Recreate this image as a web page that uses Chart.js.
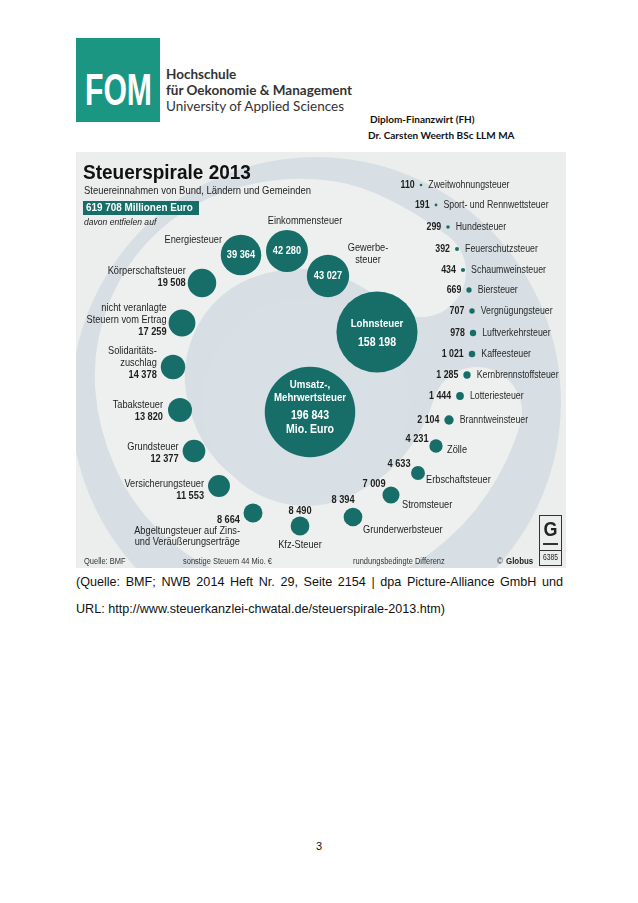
<!DOCTYPE html>
<html><head><meta charset="utf-8">
<script src="https://cdn.jsdelivr.net/npm/chart.js@4.4.1/dist/chart.umd.min.js"></script>
<style>
html,body{margin:0;padding:0;background:#fff;}
body{width:638px;height:903px;position:relative;overflow:hidden;font-family:"Liberation Sans",Arial,sans-serif;color:#111;}
.abs{position:absolute;white-space:nowrap;line-height:1;}
#logo{left:76px;top:38px;width:84px;height:84px;background:#1a9683;}
#fom{left:85px;top:64px;font:bold 45px "Liberation Sans",Arial,sans-serif;color:#fff;transform:scaleX(0.67);transform-origin:0 0;}
.hs{left:166px;font-family:Lato,"Open Sans",sans-serif;font-size:13.5px;color:#333;}
.dr{font-family:Lato,"Open Sans",sans-serif;font-weight:bold;font-size:10px;color:#111;}
.cap{left:76px;font-size:12.6px;color:#111;}
#chartBox{position:absolute;left:76px;top:152px;width:490px;height:416px;}
</style></head>
<body>
<div class="abs" id="logo"></div>
<div class="abs" id="fom">FOM</div>
<div class="abs hs" style="top:68px;font-weight:bold;">Hochschule</div>
<div class="abs hs" style="top:84px;font-weight:bold;">für Oekonomie &amp; Management</div>
<div class="abs hs" style="top:100px;">University of Applied Sciences</div>
<div class="abs dr" style="left:370px;top:114px;">Diplom-Finanzwirt (FH)</div>
<div class="abs dr" style="left:368px;top:130px;">Dr. Carsten Weerth BSc LLM MA</div>
<div id="chartBox"><canvas id="c" width="490" height="416"></canvas></div>
<div class="abs cap" style="top:576px;width:487px;text-align:justify;text-align-last:justify;">(Quelle: BMF; NWB 2014 Heft Nr. 29, Seite 2154 | dpa Picture-Alliance GmbH und</div>
<div class="abs cap" style="top:603px;">URL: http://www.steuerkanzlei-chwatal.de/steuerspirale-2013.htm)</div>
<div class="abs" style="left:316px;top:841px;font-size:11px;">3</div>
<script>
// ---- data (Mio. Euro, 2013) ----
const taxNames = ["Umsatz-,\nMehrwertsteuer", "Lohnsteuer", "Gewerbe-\nsteuer", "Einkommensteuer", "Energiesteuer",
  "Körperschaftsteuer", "nicht veranlagte\nSteuern vom Ertrag", "Solidaritäts-\nzuschlag", "Tabaksteuer", "Grundsteuer",
  "Versicherungsteuer", "Abgeltungsteuer auf Zins-\nund Veräußerungserträge", "Kfz-Steuer", "Grunderwerbsteuer", "Stromsteuer",
  "Erbschaftsteuer", "Zölle", "Branntweinsteuer", "Lotteriesteuer", "Kernbrennstoffsteuer", "Kaffeesteuer",
  "Luftverkehrsteuer", "Vergnügungsteuer", "Biersteuer", "Schaumweinsteuer", "Feuerschutzsteuer", "Hundesteuer",
  "Sport- und Rennwettsteuer", "Zweitwohnungsteuer"];
const taxValues = [196843, 158198, 43027, 42280, 39364, 19508, 17259, 14378, 13820, 12377, 11553, 8664, 8490, 8394, 7009,
  4633, 4231, 2104, 1444, 1285, 1021, 978, 707, 669, 434, 392, 299, 191, 110];
// position of each bubble on the spiral (layout grid 0..490 x 0..416)
const spiralX = [234, 301, 252, 211, 165, 126, 106, 97, 104, 118, 143, 177, 224, 277, 315, 342, 360, 373, 384, 391, 396, 397, 396, 393, 387, 381, 372, 360, 345];
const spiralY = [260, 180, 124, 99, 103, 131, 171, 215, 258, 299, 334, 361, 374, 365, 343, 321, 294, 268, 244, 223, 202, 181, 159, 138, 118, 97, 75, 53, 33];
const totalLabel = "619 708 Millionen Euro";
const otherTaxes = "sonstige Steuern 44 Mio. €";

// ---- label layout (placement relative to bubble) ----
const W = '#fff', D = '#1e1e1e';
const labelLayout = [
  {items:[{w:'name',dx:0,dy:-27,al:'center',c:W,s:11,b:1,lh:13},{w:'value',dx:0,dy:4,al:'center',c:W,s:12,b:1},{w:'Mio. Euro',dx:0,dy:18,al:'center',c:W,s:12,b:1}]},
  {items:[{w:'name',dx:0,dy:-8,al:'center',c:W,s:11,b:1},{w:'value',dx:0,dy:11,al:'center',c:W,s:12,b:1}]},
  {items:[{w:'value',dx:0,dy:0,al:'center',c:W,s:10.5,b:1},{w:'name',dx:40,dy:-28,al:'center',c:D,s:10.5,lh:12}]},
  {items:[{w:'value',dx:0,dy:0,al:'center',c:W,s:10.5,b:1},{w:'name',dx:18,dy:-30,al:'center',c:D,s:10.5}]},
  {items:[{w:'value',dx:0,dy:0,al:'center',c:W,s:10.5,b:1},{w:'name',dx:-19,dy:-15,al:'right',c:D,s:10.5}]},
  {left:true,gap:2,dy:0},
  {left:true,gap:2,dy:9},
  {left:true,gap:4,dy:8},
  {left:true,gap:5,dy:7},
  {left:true,gap:4,dy:8},
  {left:true,gap:4,dy:10},
  {items:[{w:'value',dx:-13,dy:7,al:'right',c:D,s:10.5,b:1},{w:'name',dx:-13,dy:18,al:'right',c:D,s:10.5,lh:11.5}]},
  {items:[{w:'value',dx:0,dy:-15,al:'center',c:D,s:10.5,b:1},{w:'name',dx:0,dy:19,al:'center',c:D,s:10.5}]},
  {items:[{w:'value',dx:-10,dy:-17,al:'center',c:D,s:10.5,b:1},{w:'name',dx:10,dy:13,al:'left',c:D,s:10.5}]},
  {items:[{w:'value',dx:-17,dy:-11,al:'center',c:D,s:10.5,b:1},{w:'name',dx:11,dy:10,al:'left',c:D,s:10.5}]},
  {items:[{w:'value',dx:-19,dy:-9,al:'center',c:D,s:10.5,b:1},{w:'name',dx:8,dy:7,al:'left',c:D,s:10.5}]},
  {items:[{w:'value',dx:-19,dy:-7,al:'center',c:D,s:10.5,b:1},{w:'name',dx:11,dy:4,al:'left',c:D,s:10.5}]}
];

const fmt = v => String(v).replace(/\B(?=(\d{3})+(?!\d))/g, ' ');
const FONT = '"Liberation Sans", Arial, Helvetica, sans-serif';
function txt(ctx, s, x, y, size, bold, align, color, cond, italic) {
  ctx.save();
  ctx.font = (italic ? 'italic ' : '') + (bold ? 'bold ' : '') + size + 'px ' + FONT;
  ctx.fillStyle = color; ctx.textBaseline = 'middle'; ctx.textAlign = align;
  ctx.translate(x, y); ctx.scale(cond === undefined ? 0.88 : cond, 1);
  ctx.fillText(s, 0, 0);
  ctx.restore();
}

const bgPlugin = {
  id: 'bg',
  beforeDraw(chart) {
    const ctx = chart.ctx, sx = chart.scales.x, sy = chart.scales.y;
    const X = v => sx.getPixelForValue(v), Y = v => sy.getPixelForValue(v);
    ctx.save();
    ctx.fillStyle = '#eceeee'; ctx.fillRect(0, 0, chart.width, chart.height);
    ctx.fillStyle = '#d7dfe4';
    ctx.beginPath(); ctx.arc(X(240), Y(250), 245, 0, Math.PI * 2); ctx.fill();
    // light spiral band
    const pts = [[345,120],[290,80],[215,68],[140,88],[88,135],[62,200],[66,265],[95,330],[150,378],[225,398],[300,385],[355,345],[392,290],[410,230]];
    ctx.strokeStyle = '#eef0ef'; ctx.lineWidth = 90; ctx.lineCap = 'round'; ctx.lineJoin = 'round';
    ctx.beginPath(); ctx.moveTo(X(pts[0][0]), Y(pts[0][1]));
    for (let i = 1; i < pts.length - 1; i++) {
      const mx = (pts[i][0] + pts[i+1][0]) / 2, my = (pts[i][1] + pts[i+1][1]) / 2;
      ctx.quadraticCurveTo(X(pts[i][0]), Y(pts[i][1]), X(mx), Y(my));
    }
    ctx.stroke();
    ctx.fillStyle = '#d8e0e5';
    ctx.beginPath(); ctx.arc(X(230), Y(250), 104, 0, Math.PI * 2); ctx.fill();
    ctx.restore();
  }
};

const labelPlugin = {
  id: 'labels',
  afterDatasetsDraw(chart) {
    const ctx = chart.ctx;
    const meta = chart.getDatasetMeta(0);
    meta.data.forEach((el, i) => {
      const cx = el.x, cy = el.y, r = el.options.radius;
      const name = taxNames[i], val = fmt(taxValues[i]);
      const L = labelLayout[i];
      if (!L) { // list style
        txt(ctx, val, cx - r - 5, cy, 10, true, 'right', D);
        txt(ctx, name, cx + r + 6, cy, 10, false, 'left', '#2a2a2a');
        return;
      }
      if (L.left) {
        const lines = name.split('\n');
        const xr = cx - r - L.gap;
        txt(ctx, val, xr, cy + L.dy, 10.5, true, 'right', D);
        lines.forEach((ln, k) => txt(ctx, ln, xr, cy + L.dy - 12 * (lines.length - k), 10.5, false, 'right', D));
        return;
      }
      L.items.forEach(it => {
        if (it.w === 'name') {
          name.split('\n').forEach((ln, k) => txt(ctx, ln, cx + it.dx, cy + it.dy + k * (it.lh || 12), it.s, it.b, it.al, it.c));
        } else if (it.w === 'value') {
          txt(ctx, val, cx + it.dx, cy + it.dy, it.s, it.b, it.al, it.c);
        } else {
          txt(ctx, it.w, cx + it.dx, cy + it.dy, it.s, it.b, it.al, it.c);
        }
      });
    });
    // heading and footer of the graphic
    txt(ctx, 'Steuerspirale 2013', 7, 21, 20, true, 'left', '#111', 0.95);
    txt(ctx, 'Steuereinnahmen von Bund, Ländern und Gemeinden', 8, 39, 10.5, false, 'left', '#222', 0.9);
    ctx.fillStyle = '#176e69'; ctx.fillRect(7, 49, 116, 14);
    txt(ctx, totalLabel, 10, 56, 11, true, 'left', '#fff', 0.9);
    txt(ctx, 'davon entfielen auf', 8, 70, 9.5, false, 'left', '#222', 0.9, true);
    txt(ctx, 'Quelle: BMF', 8, 410, 8.5, false, 'left', '#333');
    txt(ctx, otherTaxes, 107, 410, 8.5, false, 'left', '#333');
    txt(ctx, 'rundungsbedingte Differenz', 277, 410, 8.5, false, 'left', '#333');
    txt(ctx, '© ', 421, 410, 9, false, 'left', '#333');
    txt(ctx, 'Globus', 430, 410, 9, true, 'left', '#222');
    ctx.save();
    ctx.strokeStyle = '#333'; ctx.lineWidth = 1;
    ctx.strokeRect(463.5, 363.5, 22, 50);
    ctx.beginPath(); ctx.moveTo(463.5, 398.5); ctx.lineTo(485.5, 398.5); ctx.stroke();
    ctx.lineWidth = 2; ctx.beginPath(); ctx.moveTo(467, 392); ctx.lineTo(482, 392); ctx.stroke();
    ctx.restore();
    txt(ctx, 'G', 474.5, 378, 20, true, 'center', '#222', 0.9);
    txt(ctx, '6385', 474.5, 406, 9, false, 'center', '#222', 0.75);
  }
};

new Chart(document.getElementById('c'), {
  type: 'bubble',
  data: {
    labels: taxNames,
    datasets: [{
      data: taxValues.map((v, i) => ({ x: spiralX[i], y: spiralY[i], r: Math.max(1.3, 0.102 * Math.sqrt(v)) })),
      backgroundColor: '#176e69', borderWidth: 0, hoverRadius: 0, clip: false
    }]
  },
  options: {
    responsive: false, devicePixelRatio: 1, animation: false, events: [],
    layout: { padding: 0, autoPadding: false },
    plugins: { legend: { display: false }, tooltip: { enabled: false } },
    scales: {
      x: { type: 'linear', min: 0, max: 490, display: false },
      y: { type: 'linear', min: 0, max: 416, reverse: true, display: false }
    }
  },
  plugins: [bgPlugin, labelPlugin]
});
</script>
</body></html>
